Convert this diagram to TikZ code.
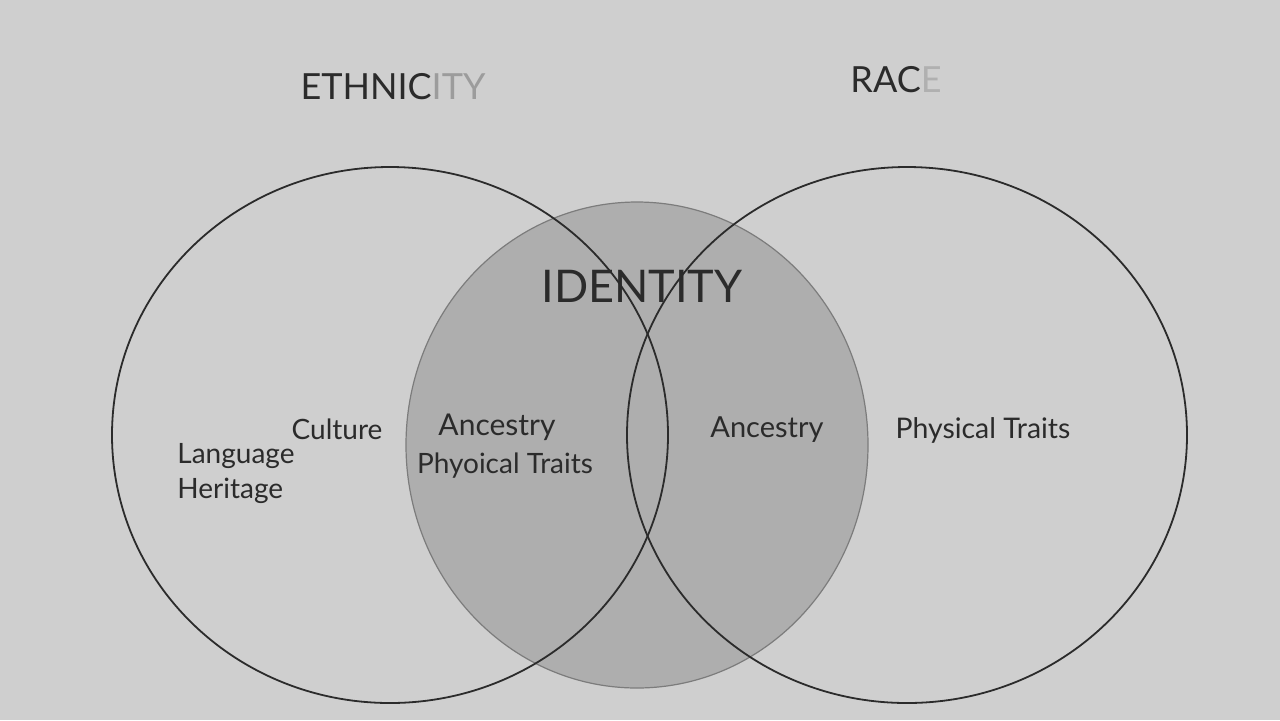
\documentclass[tikz,border=0pt]{standalone}
\usepackage{fontspec}
\setmainfont{Lato}
\usepackage{tikz}
\usetikzlibrary{positioning}
\definecolor{bgray}{HTML}{CFCFCF}
\definecolor{midgray}{HTML}{AEAEAE}
\definecolor{rimgray}{HTML}{7C7C7C}
\definecolor{ink}{HTML}{2B2B2B}
\definecolor{faded}{HTML}{9C9C9C}
\colorlet{fadedE}{faded!60!bgray}

\begin{document}
\begin{tikzpicture} [x=0.5pt, y=-0.5pt, ring/.style ={draw=ink, line width=0.9pt}, word/.style ={text=ink, inner sep=0pt, font=\fontsize{14}{16}\selectfont}, title/.style ={text=ink, inner sep=0pt, font=\fontsize{18}{20}\selectfont}]
\useasboundingbox[fill=bgray] (0,0) rectangle (1280,720);
% middle disc first, outlines on top
\fill[midgray] (637,445) ellipse [x radius=231, y radius=243];
\draw[rimgray, line width=0.6pt] (637,445) ellipse [x radius=231, y radius=243];
\draw[ring] (390,435) ellipse [x radius=278, y radius=268];
\draw[ring] (907,435) ellipse [x radius=280, y radius=268];
\node[title] (Eth) at (393,87) {ETHNIC\textcolor{faded}{ITY}};
\node[title] (Race) at (896,80) {RAC\textcolor{fadedE}{E}};
\node[title, font=\fontsize{22.5}{24}\selectfont] (Id) at (642,286) {IDENTITY};
\node[word] (Cul) at (337,429) {Culture};
\node[word, anchor=west] (Lang) at (177,456) {Language};
\node[word, anchor=west] (Her) at (177,491) {Heritage};
\node[word, font=\fontsize{15}{17}\selectfont] (AncL) at (497,427) {Ancestry};
\node[word] (TraitsL) at (505,466) {Phyoical Traits};
\node[word, font=\fontsize{14.5}{16}\selectfont] (AncR) at (767,430) {Ancestry};
\node[word, font=\fontsize{14.2}{16}\selectfont] (TraitsR) at (983,430) {Physical Traits};
\end{tikzpicture}
\end{document}
